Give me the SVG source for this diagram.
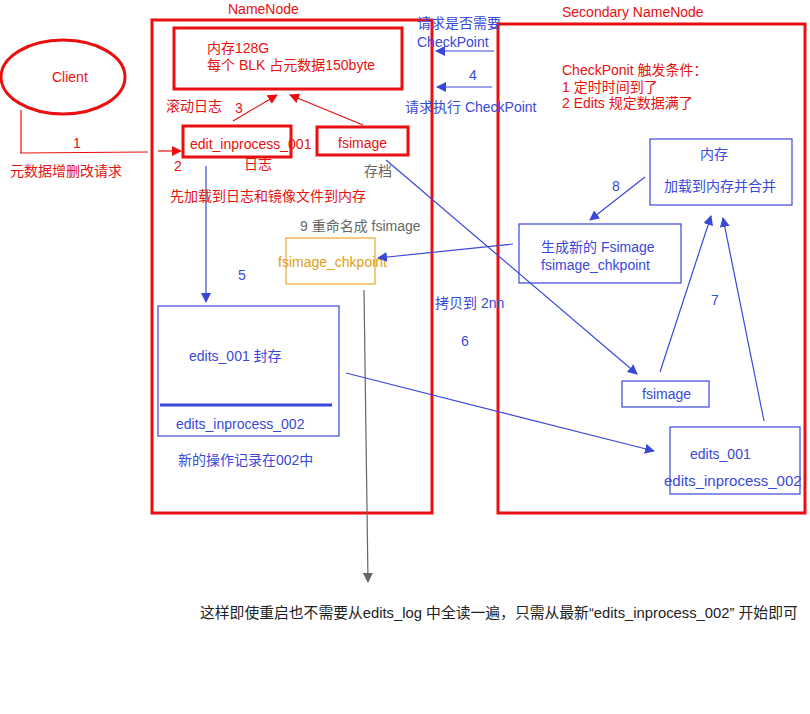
<svg xmlns="http://www.w3.org/2000/svg" width="810" height="714" viewBox="0 0 810 714">
<defs>
<style>
text{font-family:"Liberation Sans","Noto Sans CJK SC",sans-serif;font-size:14px}
.r{fill:#e81010}.b{fill:#3a48d8}.g{fill:#666}.k{fill:#222}
.rb{fill:none;stroke:#e81010;stroke-width:3}
.bb{fill:none;stroke:#3a48d8;stroke-width:1.2}
.bl{stroke:#3a48d8;stroke-width:1.2;fill:none;marker-end:url(#ab)}
.rl{stroke:#e81010;stroke-width:1.2;fill:none;marker-end:url(#ar)}
</style>
<marker id="ab" viewBox="0 0 10 10" refX="9" refY="5" markerWidth="10" markerHeight="10" orient="auto" markerUnits="userSpaceOnUse"><path d="M0,0L10,5L0,10z" fill="#3a48d8"/></marker>
<marker id="ar" viewBox="0 0 10 10" refX="9" refY="5" markerWidth="10" markerHeight="10" orient="auto" markerUnits="userSpaceOnUse"><path d="M0,0L10,5L0,10z" fill="#e81010"/></marker>
<marker id="ag" viewBox="0 0 10 10" refX="9" refY="5" markerWidth="10" markerHeight="10" orient="auto" markerUnits="userSpaceOnUse"><path d="M0,0L10,5L0,10z" fill="#666"/></marker>
</defs>
<rect width="810" height="714" fill="#fff"/>
<g id="client"><ellipse cx="63" cy="77" rx="62" ry="37" class="rb"/><text x="52" y="82" class="r">Client</text></g>
<g id="namenode"><rect x="152" y="20" width="280" height="493" class="rb"/><text x="228" y="14" class="r">NameNode</text></g>
<g id="secondary"><rect x="498" y="24" width="307" height="489" class="rb"/><text x="562" y="17" class="r">Secondary  NameNode</text></g>
<g id="memory"><rect x="174" y="28" width="228" height="61" class="rb"/><text x="207" y="53" class="r">内存128G</text><text x="207" y="70" class="r">每个 BLK 占元数据150byte</text></g>
<g id="editinprocess"><rect x="183" y="126" width="108" height="31" class="rb"/><text x="190" y="149" class="r">edit_inprocess_001</text></g>
<g id="fsimage1"><rect x="317" y="127" width="91" height="28" class="rb"/><text x="338" y="148" class="r">fsimage</text></g>
<g id="chkpoint"><rect x="286" y="238" width="89" height="46" fill="none" stroke="#e8a830" stroke-width="1.2"/><text x="278" y="267" fill="#e0a010">fsimage_chkpoint</text></g>
<g id="edits"><rect x="158" y="306" width="181" height="130" class="bb"/><text x="189" y="361" class="b">edits_001 封存</text><line x1="160" y1="405" x2="332" y2="405" stroke="#3a48d8" stroke-width="3"/><text x="176" y="429" class="b">edits_inprocess_002</text></g>
<g id="snmem"><rect x="650" y="139" width="142" height="66" class="bb"/><text x="700" y="159" class="b">内存</text><text x="664" y="191" class="b">加载到内存并合并</text></g>
<g id="newfs"><rect x="519" y="224" width="162" height="59" class="bb"/><text x="541" y="252" class="b">生成新的 Fsimage</text><text x="541" y="270" class="b">fsimage_chkpoint</text></g>
<g id="fsimage2"><rect x="622" y="381" width="87" height="26" class="bb"/><text x="642" y="399" class="b">fsimage</text></g>
<g id="edits2"><rect x="670" y="427" width="130" height="67" class="bb"/><text x="690" y="459" class="b">edits_001</text><text x="664" y="486" class="b" style="font-size:15px">edits_inprocess_002</text></g>
<g id="connectors">
<polyline points="21,110 21,153" stroke="#e81010" stroke-width="1.2" fill="none"/>
<line x1="20" y1="153" x2="148" y2="152" stroke="#e81010" stroke-width="1.2"/>
<line x1="158" y1="151" x2="181" y2="151" class="rl"/>
<line x1="233" y1="121" x2="277" y2="95" class="rl"/>
<line x1="363" y1="125" x2="290" y2="95" class="rl"/>
<line x1="206" y1="166" x2="206" y2="302" class="bl"/>
<line x1="364" y1="290" x2="368" y2="582" stroke="#666" stroke-width="1.2" marker-end="url(#ag)"/>
<line x1="513" y1="244" x2="378" y2="258" class="bl"/>
<line x1="346" y1="373" x2="654" y2="451" class="bl"/>
<line x1="494" y1="51" x2="436" y2="51" class="bl"/>
<line x1="492" y1="87" x2="437" y2="87" class="bl"/>
<line x1="645" y1="177" x2="590" y2="220" class="bl"/>
<line x1="386" y1="160" x2="637" y2="374" class="bl"/>
<line x1="660" y1="372" x2="711" y2="216" class="bl"/>
<line x1="764" y1="421" x2="723" y2="218" class="bl"/>
</g>
<g id="labels">
<text x="73" y="148" class="r">1</text>
<text x="174" y="171" class="r">2</text>
<text x="10" y="176" class="r">元数据增删改请求</text>
<text x="166" y="111" class="r">滚动日志</text>
<text x="235" y="113" class="r">3</text>
<text x="244" y="169" class="r">日志</text>
<text x="364" y="176" class="g">存档</text>
<text x="170" y="201" class="r">先加载到日志和镜像文件到内存</text>
<text x="300" y="231" class="g">9 重命名成 fsimage</text>
<text x="238" y="280" class="b">5</text>
<text x="178" y="465" class="b">新的操作记录在002中</text>
<text x="417" y="28" class="b">请求是否需要</text>
<text x="417" y="47" class="b">CheckPoint</text>
<text x="469" y="80" class="b">4</text>
<text x="405" y="112" class="b">请求执行 CheckPoint</text>
<text x="562" y="75" class="r">CheckPonit 触发条件：</text>
<text x="562" y="92" class="r">1 定时时间到了</text>
<text x="562" y="108" class="r">2 Edits 规定数据满了</text>
<text x="612" y="191" class="b">8</text>
<text x="435" y="308" class="b">拷贝到 2nn</text>
<text x="461" y="346" class="b">6</text>
<text x="711" y="305" class="b">7</text>
<text x="200" y="618" class="k" style="font-size:14.8px">这样即使重启也不需要从edits_log 中全读一遍，只需从最新“edits_inprocess_002” 开始即可</text>
</g>
</svg>
